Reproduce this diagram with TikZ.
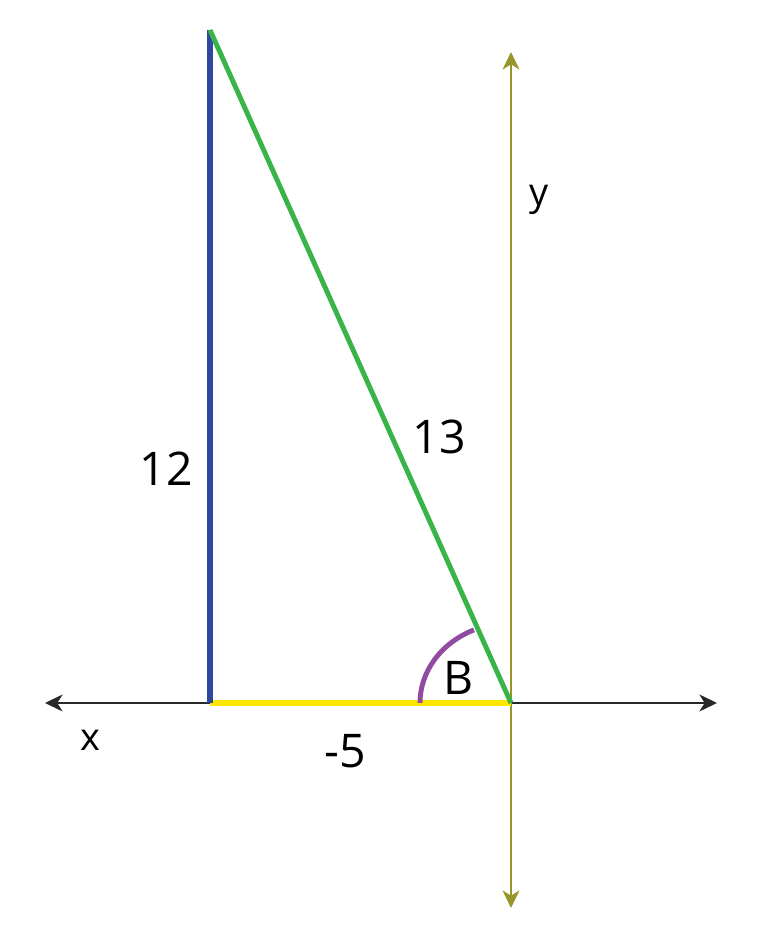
\documentclass[tikz,border=0pt]{standalone}
\usepackage{fontspec}
\setmainfont{Open Sans}
\usetikzlibrary{positioning, arrows.meta}
\definecolor{legblue}{RGB}{46,72,160}
\definecolor{hypgreen}{RGB}{58,180,72}
\definecolor{baseyellow}{RGB}{255,230,0}
\definecolor{axisolive}{RGB}{150,150,45}
\definecolor{anglepurple}{RGB}{145,75,160}
\definecolor{axisgray}{RGB}{40,40,40}

\begin{document}
\begin{tikzpicture}[
        axis/.style={line width=0.6pt, -{Stealth[length=5pt, width=4.8pt, inset=1.5pt]}},
        side/.style={line width=1.6pt},
        num/.style={font=\fontsize{13.2}{15}\selectfont, inner sep=0pt},
        axlbl/.style={font=\fontsize{10.8}{12}\selectfont, inner sep=0pt},
    ]
    \useasboundingbox (-5.11,-2.41) rectangle (2.57,7.03);

    % Points
    \coordinate (O) at (0,0);
    \coordinate (A) at (-3.01,0);
    \coordinate (T) at (-3.01,6.73);
    \coordinate (xl) at (-4.66,0);
    \coordinate (xr) at (2.06,0);
    \coordinate (yt) at (0,6.51);
    \coordinate (yb) at (0,-2.05);
    \coordinate (Bs) at (-0.91,0);

    % Axes
    \draw[axis, axisgray] (O) -- (xl);
    \draw[axis, axisgray] (O) -- (xr);
    \draw[axis, axisolive] (O) -- (yt);
    \draw[axis, axisolive] (O) -- (yb);

    % Triangle
    \draw[side, baseyellow] (A) -- (O);
    \draw[side, legblue] (A) -- (T);
    \draw[side, hypgreen, line width=1.4pt] (T) -- (O);
    \draw[line width=1.4pt, anglepurple] (Bs) arc[start angle=180, end angle=114, x radius=0.91, y radius=0.80];

    % Labels
    \node[num] (l12) at (-3.45,2.34) {12};
    \node[num] (l13) at (-0.72,2.66) {13};
    \node[num] (lm5) at (-1.66,-0.48) {-5};
    \node[num] (lB) at (-0.52,0.25) {B};
    \node[axlbl] (lx) at (-4.21,-0.37) {x};
    \node[axlbl] (ly) at (0.28,5.03) {y};
\end{tikzpicture}
\end{document}
